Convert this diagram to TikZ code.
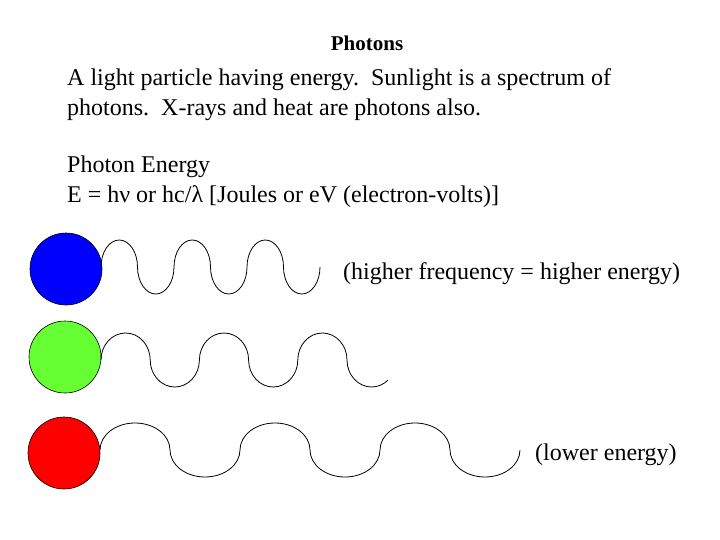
\documentclass[tikz,border=0pt]{standalone}
\usepackage{fontspec}
\setmainfont{Liberation Serif}
\begin{document}
\begin{tikzpicture}[x=1pt,y=-1pt,
  txt/.style={anchor=base west,inner sep=0pt,font=\fontsize{24}{29}\selectfont},
  wave/.style={black,line width=0.8pt},
  photon/.style={circle,draw=black,line width=0.6pt,minimum size=72pt,inner sep=0pt}]
\useasboundingbox (0,0) rectangle (720,540);
\node[anchor=base,inner sep=0pt,font=\fontsize{21}{25}\selectfont\bfseries] (title) at (367,51) {Photons};
\node[txt] (l1) at (67,86) {A light particle having energy.\ \ Sunlight is a spectrum of};
\node[txt] (l2) at (67,116) {photons.\ \ X-rays and heat are photons also.};
\node[txt] (l3) at (67,173) {Photon Energy};
\node[txt] (l4) at (67,203) {E = hν or hc/λ [Joules or eV (electron-volts)]};
\node[photon,fill=blue] (b) at (66,269) {};
\node[photon,fill={rgb,255:red,102;green,255;blue,51}] (g) at (65,357) {};
\node[photon,fill=red] (r) at (64,453) {};
\coordinate (wb) at (101,267);
\coordinate (wg) at (101,360);
\coordinate (wr) at (100,450);
\draw[wave,x radius=18.25,y radius=27] (wb)
  \foreach \i in {1,2,3} {arc[start angle=180,end angle=360] arc[start angle=180,end angle=0]};
\draw[wave,x radius=24.6,y radius=27] (wg)
  \foreach \i in {1,2} {arc[start angle=180,end angle=360] arc[start angle=180,end angle=0]}
  arc[start angle=180,end angle=360] arc[start angle=180,end angle=48];
\draw[wave,x radius=35,y radius=27] (wr)
  \foreach \i in {1,2,3} {arc[start angle=180,end angle=360] arc[start angle=180,end angle=0]};
\node[txt] (hf) at (343,279) {(higher frequency = higher energy)};
\node[txt] (le) at (535,460) {(lower energy)};
\end{tikzpicture}
\end{document}
